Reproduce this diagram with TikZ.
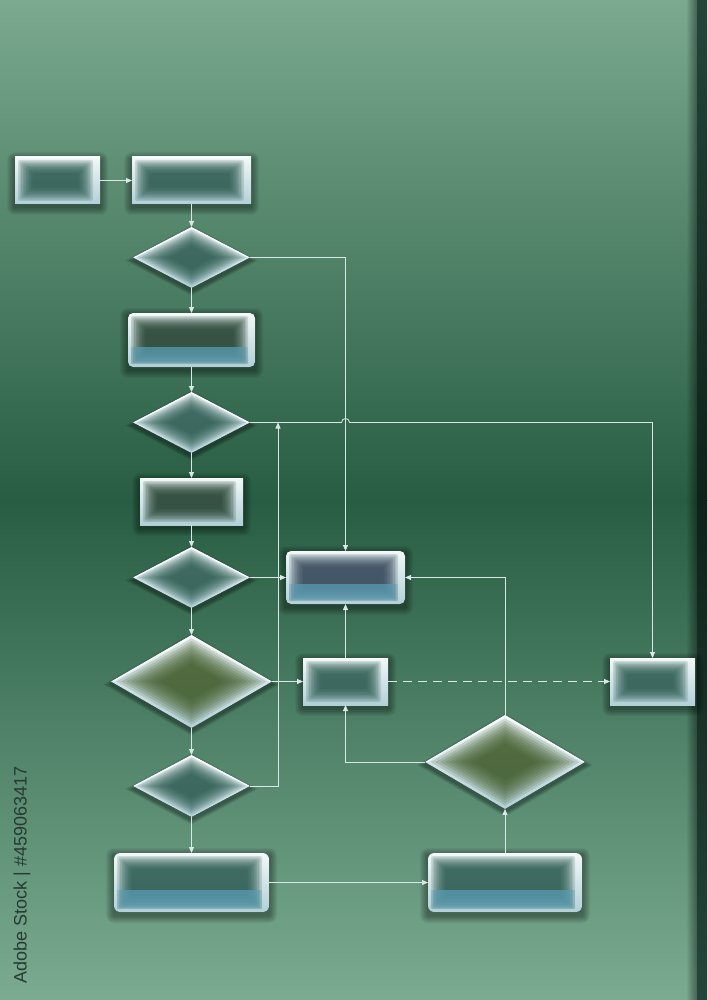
\documentclass[tikz,border=0pt]{standalone}
\usepackage{fontspec}
\newfontfamily\creditfont{Liberation Sans}
\usetikzlibrary{arrows.meta,shapes.geometric,calc}
\definecolor{bgtop}{HTML}{7AA98F}
\definecolor{bgmid}{HTML}{285D43}
\definecolor{bgbot}{HTML}{7BAC91}
\definecolor{linecol}{HTML}{D9E8E6}
\definecolor{edgehi}{HTML}{F2F8F8}
\definecolor{edgelo}{HTML}{B2D0D7}
\definecolor{tealdark}{HTML}{24554A}
\definecolor{greendark}{HTML}{1C3A28}
\definecolor{slatedark}{HTML}{2C3F52}
\definecolor{olivedark}{HTML}{3A5622}
\definecolor{bandblue}{HTML}{5A9CB2}
\definecolor{creditcol}{HTML}{283A32}
\definecolor{stripdark}{HTML}{0E221A}
\definecolor{stripend}{HTML}{24463A}
\tikzset{
  boxnode/.style={rectangle, draw=none, inner sep=0pt, outer sep=0pt},
  decision/.style={diamond, draw=none, inner sep=0pt, outer sep=0pt},
  conn/.style={draw=linecol, line width=0.8pt, -{Triangle[length=6pt,width=5pt,fill=linecol]}},
  dashconn/.style={conn, dash pattern=on 9pt off 6pt},
  edgefill/.style={top color=edgehi, bottom color=edgelo},
  shadowlayer/.style={fill=black, opacity=0.05},
  blurlayer/.style={opacity=0.17},
  rimline/.style={draw=white, opacity=0.85, line width=1.2pt},
  credit/.style={rotate=90, font=\creditfont\fontsize{18}{20}\selectfont, text=creditcol, inner sep=0pt},
}
% #1 name, #2 cx, #3 cy, #4 w, #5 h, #6 radius, #7 dark colour
\newcommand\glossrect[7]{%
  \node[boxnode, minimum width=#4pt, minimum height=#5pt] (#1) at (#2,#3) {};
  \foreach \e in {1,...,8}{
    \fill[shadowlayer, rounded corners=\e pt] (#2-#4/2-\e, #3-#5/2-\e+3) rectangle (#2+#4/2+\e, #3+#5/2+\e+3);
  }
  \fill[edgefill, rounded corners=#6pt] (#2-#4/2, #3-#5/2) rectangle (#2+#4/2, #3+#5/2);
  \foreach \k in {0,...,9}{
    \fill[#7, blurlayer, rounded corners=2pt] (#2-#4/2+3+1.6*\k, #3-#5/2+3+1.45*\k) rectangle (#2+#4/2-7-1.6*\k, #3+#5/2-3-1.45*\k);
  }
  \draw[rimline] (#2-#4/2+#6+1, #3-#5/2+0.7) -- (#2+#4/2-#6-1, #3-#5/2+0.7);
}
% band version: #8 band colour
\newcommand\glossband[8]{%
  \glossrect{#1}{#2}{#3}{#4}{#5}{#6}{#7}
  \foreach \k in {0,...,3}{
    \fill[#8, opacity=0.3] (#2-#4/2+3+2.4*\k, #3+0.13*#5) rectangle (#2+#4/2-7-2.4*\k, #3+#5/2-3-1.2*\k);
  }
}
% #1 name, #2 cx, #3 cy, #4 w, #5 h, #6 dark colour
\newcommand\glossdia[6]{%
  \node[decision, minimum width=#4pt, minimum height=#5pt] (#1) at (#2,#3) {};
  \foreach \e in {1,...,8}{
    \fill[shadowlayer] (#2-#4/2-\e, #3+3) -- (#2, #3-#5/2-0.6*\e+3) -- (#2+#4/2+\e, #3+3) -- (#2, #3+#5/2+0.6*\e+3) -- cycle;
  }
  \fill[edgefill] (#2-#4/2, #3) -- (#2, #3-#5/2) -- (#2+#4/2, #3) -- (#2, #3+#5/2) -- cycle;
  \foreach \s in {0.93,0.87,0.81,0.75,0.69,0.63,0.57,0.51,0.45,0.39}{
    \fill[#6, blurlayer] (#2-\s*#4/2, #3) -- (#2, #3-\s*#5/2) -- (#2+\s*#4/2, #3) -- (#2, #3+\s*#5/2) -- cycle;
  }
  \draw[rimline, line join=miter] (#2-#4/2+1.5, #3) -- (#2, #3-#5/2+0.8) -- (#2+#4/2-1.5, #3);
}
\begin{document}
\begin{tikzpicture}[x=1pt, y=-1pt]
\useasboundingbox (0,0) rectangle (707,1000);
% background
\fill[top color=bgtop, bottom color=bgmid] (0,0) rectangle (707,500.5);
\fill[top color=bgmid, bottom color=bgbot] (0,500) rectangle (707,1000);
\foreach \i in {0,...,9}{
  \fill[black, opacity=0.045] (687+\i,0) rectangle (707,1000);
}
\fill[top color=stripend, bottom color=stripend, middle color=stripdark] (697,0) rectangle (707,1000);
% credit line
\node[credit] (credit) at (22,875) {Adobe Stock | \#459063417};
% nodes
\glossrect{A}{57.5}{180.5}{85}{47}{0}{tealdark}
\glossrect{B}{191.5}{180.5}{119}{47}{0}{tealdark}
\glossdia{D1}{191.5}{257.5}{117}{61}{tealdark}
\glossband{C}{191.5}{340}{127}{54}{5}{greendark}{bandblue}
\glossdia{D2}{191.5}{422.5}{117}{61}{tealdark}
\glossrect{E}{191.5}{501.5}{103}{47}{0}{greendark}
\glossdia{D3}{191.5}{577.5}{117}{61}{tealdark}
\glossdia{D4}{191.5}{681.5}{161}{93}{olivedark}
\glossdia{D5}{191.5}{786}{117}{62}{tealdark}
\glossband{F}{191.5}{882.5}{155}{59}{6}{tealdark}{bandblue}
\glossband{G}{345.5}{577.5}{119}{53}{5}{slatedark}{bandblue}
\glossrect{H}{345.5}{681.5}{85}{47}{0}{tealdark}
\glossrect{I}{652.5}{681.5}{85}{47}{0}{tealdark}
\glossdia{D6}{505}{762}{160}{94}{olivedark}
\glossband{J}{505}{882.5}{154}{59}{6}{tealdark}{bandblue}
% connectors
\coordinate (jx) at (G.north |- D2.east);
\coordinate (m1) at (278,422.5);
\draw[conn] (A.east) -- (B.west);
\draw[conn] (B.south) -- (D1.north);
\draw[conn] (D1.south) -- (C.north);
\draw[conn] (D1.east) -| (G.north);
\draw[conn] (C.south) -- (D2.north);
\draw[conn] (D2.east) -- ([xshift=-4pt]jx) arc[start angle=180, end angle=0, radius=4pt] -- (I.north |- D2.east) -- (I.north);
\draw[conn] (D2.south) -- (E.north);
\draw[conn] (E.south) -- (D3.north);
\draw[conn] (D3.east) -- (G.west);
\draw[conn] (D3.south) -- (D4.north);
\draw[conn] (D4.east) -- (H.west);
\draw[conn] (D4.south) -- (D5.north);
\draw[conn] (D5.east) -| (m1);
\draw[conn] (D5.south) -- (F.north);
\draw[conn] (F.east) -- (J.west);
\draw[conn] (J.north) -- (D6.south);
\draw[conn] (D6.west) -| (H.south);
\draw[conn] (D6.north) |- (G.east);
\draw[conn] (H.north) -- (G.south);
\draw[dashconn] (H.east) -- (I.west);
\end{tikzpicture}
\end{document}
